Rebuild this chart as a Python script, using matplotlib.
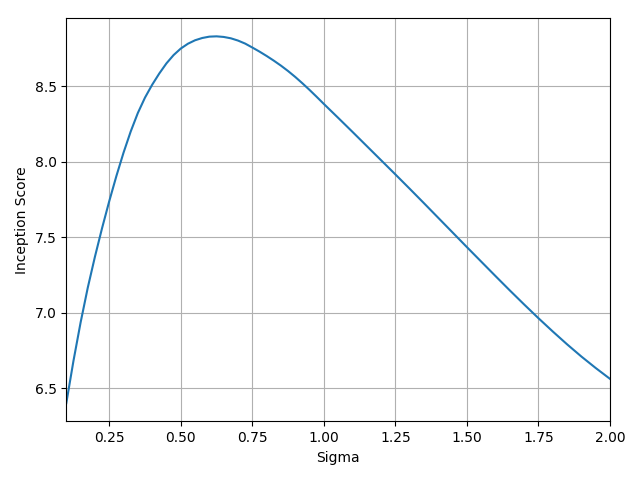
import matplotlib
matplotlib.use("Agg")
import matplotlib.pyplot as plt

sigma = [0.100, 0.125, 0.150, 0.175, 0.200, 0.225, 0.250, 0.275, 0.300, 0.325,
         0.350, 0.375, 0.400, 0.425, 0.450, 0.475, 0.500, 0.525, 0.550, 0.575,
         0.600, 0.625, 0.650, 0.675, 0.700, 0.725, 0.750, 0.775, 0.800, 0.825,
         0.850, 0.875, 0.900, 0.925, 0.950, 0.975, 1.000, 1.050, 1.100, 1.150,
         1.200, 1.250, 1.300, 1.350, 1.400, 1.450, 1.500, 1.550, 1.600, 1.650,
         1.700, 1.750, 1.800, 1.850, 1.900, 1.950, 2.000]
score = [6.400, 6.680, 6.935, 7.165, 7.370, 7.560, 7.738, 7.905, 8.060, 8.200,
         8.323, 8.425, 8.510, 8.585, 8.652, 8.707, 8.750, 8.782, 8.805, 8.820,
         8.829, 8.831, 8.827, 8.818, 8.803, 8.783, 8.757, 8.730, 8.701, 8.670,
         8.637, 8.601, 8.562, 8.520, 8.476, 8.430, 8.383, 8.291, 8.198, 8.104,
         8.010, 7.916, 7.821, 7.725, 7.628, 7.531, 7.434, 7.338, 7.242, 7.147,
         7.054, 6.963, 6.875, 6.790, 6.709, 6.633, 6.561]

fig, ax = plt.subplots(figsize=(6.4, 4.8), dpi=100)
fig.subplots_adjust(left=0.1036, right=0.9531, top=0.9625, bottom=0.1219)
ax.plot(sigma, score, color="#1f77b4")
ax.set_xlim(0.1, 2.0)
ax.set_xlabel("Sigma")
ax.set_ylabel("Inception Score")
ax.grid(True)
fig.savefig("out.png")
